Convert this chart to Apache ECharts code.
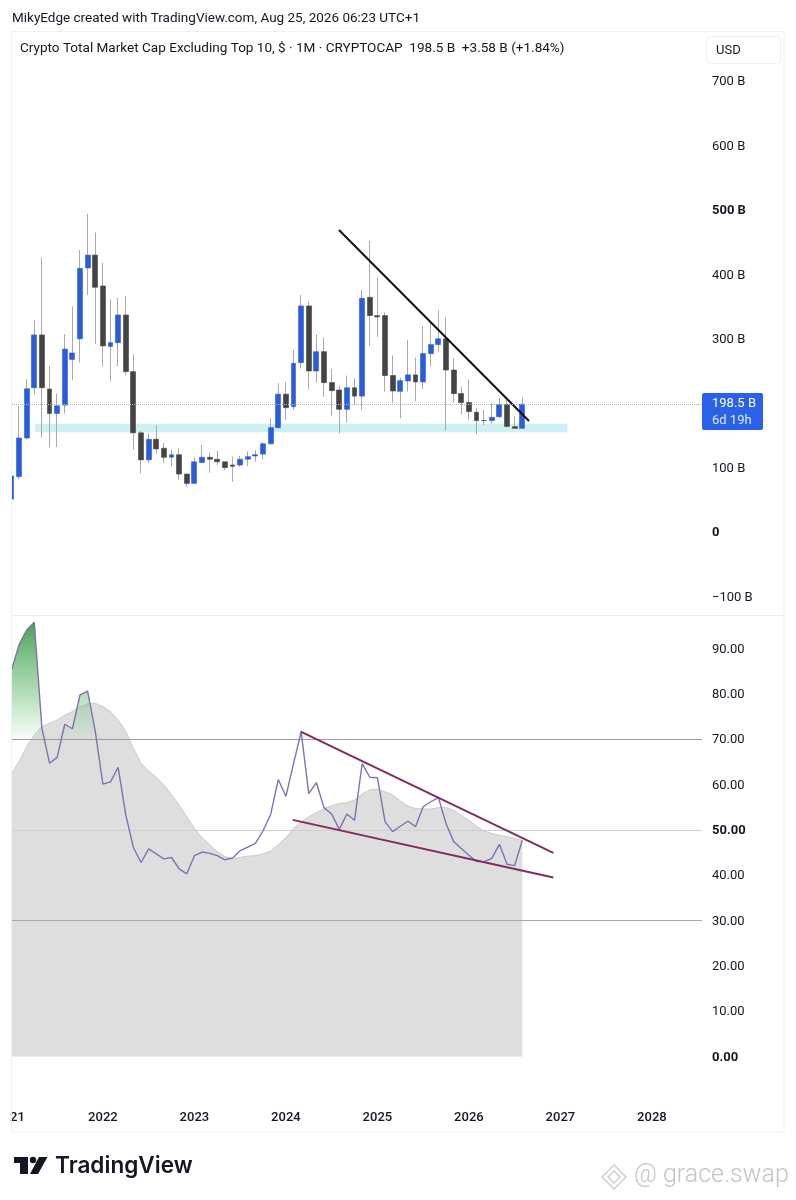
<!DOCTYPE html>
<html><head><meta charset="utf-8">
<style>html,body{margin:0;padding:0;background:#fff}#c{width:796px;height:1200px}</style>
<script src="https://cdn.jsdelivr.net/npm/echarts@6/dist/echarts.min.js"></script>
</head><body><div id="c"></div>
<script>
// bar index 0 = Jan 2021, monthly
const opens  = [51,86,146,224,306,222,184,197,268,300,410,430,382,288,294,337,249,154,112,144,130,116,120,90,75.5,108,116,113,109,104,104,113,118,121,137,162,214,194.6,263,351,250,280,232,220.5,190.5,224,211,364.4,336,336,243,218.5,234.5,244,233,277,291,300,251.5,215,201,186,173,173,179,198,163.6,161];
const closes = [87,146,222.5,306,224,184,196,284,278,409.4,430,380,289,294,337,249,154,112,144,129,116,120,90,75.5,109,116,113,109,100,102,113,117,120,137,162,214,193,262,351,250,280,232,219.5,190.5,224,211,363,336,334,243,219,235,244,233,277,291,300,251.5,215,201,187,173,173,178,198,164,161,198.5];
const lows   = [48,82,144,213,147,131,132,184,236,263,368,292,257,234,257,243,128,91,107,122,107,102,81,70,75,107,92,104,96,78,101,102,109,113,135,161,174,189.5,254,221.5,232,210,181,153,170,197,189,289,303,218,200,176.5,218,203,222,257,280,157,201,183,174,152,166,168,176.5,162,161,161];
const highs  = [88,196,237,329,426,258,215,307,350,438,494,465,418,361,364,366,276,157,153,166,138,128,130,90,116,135,123,126,109,117,118,125,127,140,176.5,231,233,283,368,358,307,302,253,227,243,238.6,376,452,395,341,274,239,298,271,320,325.6,344,333,270,226,237,192,189.5,200,208.6,205,180,209];
const rsi = [85.2,90.8,94.1,95.8,72.4,64.7,66,73.3,72.3,79.8,80.6,71.7,60.1,60.6,63.8,53.3,46.1,42.8,45.8,44.7,43.6,43.9,41.4,40.3,44.3,45.1,44.8,44.3,43.4,43.8,45.4,46.2,47,49.8,53.4,61.1,57.4,64.6,71.6,58,60.4,54.9,53.5,50.1,53.5,52.1,64.6,61.6,61.5,51.8,49.6,50.8,51.9,50.7,55.1,56.2,57.1,51.4,47.4,45.9,44.4,43,43,43.7,46.8,42.4,42.1,47.7];
const rsiMa = [62.3,65,68.4,70.9,72.8,73.5,74.2,75.3,76.1,77.2,77.8,77.9,77.2,76.1,74.2,71.7,68,64.7,63,61.6,59.9,57.7,55.5,52.9,50.3,48.3,46.7,45.2,44.1,43.7,43.9,44.2,44.3,44.7,45.3,46.7,48.3,50.3,51.8,52.9,53.8,54.7,55.3,55.8,56,56.6,57.9,58.8,59,58.4,57.7,56.4,55.2,54.7,54.6,54.6,54.9,54.9,54.3,53.2,52.1,50.8,49.7,49.2,48.8,48.5,48.1,47.7];
const priceTicks = [-100,0,100,300,400,500,600,700];
const priceLabels = {'-100':'\u2212100 B','0':'{b|0}','100':'100 B','300':'300 B','400':'400 B','500':'{b|500 B}','600':'600 B','700':'700 B'};
const rsiTicks = [0,10,20,30,40,50,60,70,80,90];
const rsiLabels = {'0':'{b|0.00}','10':'10.00','20':'20.00','30':'30.00','40':'40.00','50':'{b|50.00}','60':'60.00','70':'70.00','80':'80.00','90':'90.00'};
const xTickValues = [0.8,12,24,36,48,60,72,84];
const xTickLabels = ['21','2022','2023','2024','2025','2026','2027','2028'];
const lastPrice = 198.5;
const supportZone = [[3.1,168],[72.93,154.8]];
const priceTrend = [[42.96,469],[67.88,172.4]];
const rsiUpper = [[37.94,71.65],[71.07,44.9]];
const rsiLower = [[36.89,52.2],[71.07,39.5]];
const rsiLevels = [[70,'#9c9ca0'],[50,'#cfcfcf'],[30,'#a8a8ac']];

const FONT = 'Roboto, "Liberation Sans", sans-serif';
const BLUE = '#2b5cd9', DARK = '#444444', WICK = '#a9a9a9';
const xMin = (12-11.4)/7.625, xMax = (702-11.4)/7.625;
const idx = opens.map((_,i)=>i);
const wicks = idx.map(i=>[i,opens[i],closes[i],lows[i],highs[i]]);
const bodies = idx.map(i=>[i,opens[i],closes[i],Math.min(opens[i],closes[i]),Math.max(opens[i],closes[i])]);
const pairs = a => a.map((v,i)=>[i,v]);

const xAxisBase = {type:'value',min:xMin,max:xMax,axisLine:{show:false},axisTick:{show:false},splitLine:{show:false}};
const chart = echarts.init(document.getElementById('c'),null,{renderer:'canvas'});
chart.setOption({
  animation:false,
  backgroundColor:'#fff',
  textStyle:{fontFamily:FONT},
  grid:[
    {left:12,width:690,top:32,height:583},
    {left:12,width:690,top:616,height:484}
  ],
  xAxis:[
    Object.assign({gridIndex:0,axisLabel:{show:false}},xAxisBase),
    Object.assign({gridIndex:1,axisLabel:{show:true,customValues:xTickValues,margin:11,color:'#131722',fontSize:13,fontWeight:500,fontFamily:FONT,
      hideOverlap:false,formatter:v=>xTickLabels[xTickValues.indexOf(v)]}},xAxisBase)
  ],
  yAxis:[
    {gridIndex:0,type:'value',position:'right',min:(532-615)/0.644,max:(532-32)/0.644,axisLine:{show:false},axisTick:{show:false},splitLine:{show:false},
     axisLabel:{customValues:priceTicks,margin:10,padding:[2,0,0,0],color:'#131722',fontSize:13,fontFamily:FONT,formatter:v=>priceLabels[v],
       rich:{b:{fontWeight:'bold',fontSize:13,color:'#131722',fontFamily:FONT}}}},
    {gridIndex:1,type:'value',position:'right',min:(1056.5-1100)/4.533,max:(1056.5-616)/4.533,axisLine:{show:false},axisTick:{show:false},splitLine:{show:false},
     axisLabel:{customValues:rsiTicks,margin:10,padding:[2,0,0,0],color:'#131722',fontSize:13,fontFamily:FONT,formatter:v=>rsiLabels[v],
       rich:{b:{fontWeight:'bold',fontSize:13,color:'#131722',fontFamily:FONT}}}}
  ],
  series:[
    {type:'line',name:'zone',xAxisIndex:0,yAxisIndex:0,data:[],silent:true,z:1,
     markArea:{silent:true,itemStyle:{color:'#cdf0f2'},data:[[{xAxis:supportZone[0][0],yAxis:supportZone[0][1]},{xAxis:supportZone[1][0],yAxis:supportZone[1][1]}]]},
     markLine:{silent:true,symbol:'none',label:{show:false},lineStyle:{color:'#b4b4b4',type:'dotted',width:1},data:[{yAxis:lastPrice}]}},
    {type:'candlestick',name:'wicks',xAxisIndex:0,yAxisIndex:0,data:wicks,barWidth:1,z:2,silent:true,
     itemStyle:{color:WICK,color0:WICK,borderColor:WICK,borderColor0:WICK,borderColorDoji:WICK,borderWidth:1}},
    {type:'candlestick',name:'bodies',xAxisIndex:0,yAxisIndex:0,data:bodies,barWidth:5.4,z:3,silent:true,
     itemStyle:{color:BLUE,color0:DARK,borderColor:BLUE,borderColor0:DARK,borderColorDoji:DARK,borderWidth:0.6}},
    {type:'line',name:'trend',xAxisIndex:0,yAxisIndex:0,data:priceTrend,symbol:'none',z:4,silent:true,lineStyle:{color:'#111',width:2}},

    {type:'line',name:'RSI MA',xAxisIndex:1,yAxisIndex:1,data:pairs(rsiMa),symbol:'none',z:2,silent:true,
     lineStyle:{color:'#c9c9c9',width:1},areaStyle:{color:'#dedede',opacity:1,origin:0}},
    {type:'line',name:'OB',xAxisIndex:1,yAxisIndex:1,data:pairs(rsi.map(v=>Math.max(v,70))),symbol:'none',z:3,silent:true,
     lineStyle:{width:0},
     areaStyle:{opacity:1,origin:70,color:new echarts.graphic.LinearGradient(0,622,0,745,[
       {offset:0,color:'rgba(72,160,85,1)'},{offset:0.6,color:'rgba(110,190,120,0.5)'},{offset:1,color:'rgba(130,205,140,0)'}],true)}},
    {type:'line',name:'levels',xAxisIndex:1,yAxisIndex:1,data:[],z:4,silent:true,
     markLine:{silent:true,symbol:'none',label:{show:false},data:rsiLevels.map(l=>({yAxis:l[0],lineStyle:{color:l[1],type:'solid',width:1}}))}},
    {type:'line',name:'RSI',xAxisIndex:1,yAxisIndex:1,data:pairs(rsi),symbol:'none',z:5,silent:true,lineStyle:{color:'#7d74ae',width:1.4}},
    {type:'line',name:'upper',xAxisIndex:1,yAxisIndex:1,data:rsiUpper,symbol:'none',z:6,silent:true,lineStyle:{color:'#7c2e5e',width:2}},
    {type:'line',name:'lower',xAxisIndex:1,yAxisIndex:1,data:rsiLower,symbol:'none',z:6,silent:true,lineStyle:{color:'#7c2e5e',width:2}}
  ],
  graphic:{elements:[
    {type:'rect',silent:true,z:30,shape:{x:0,y:380,width:11.5,height:140},style:{fill:'#ffffff'}},
    {type:'rect',silent:true,z:31,shape:{x:11.5,y:31.5,width:772.5,height:1100.5},style:{fill:'none',stroke:'#f1f1f3',lineWidth:1}},
    {type:'line',silent:true,z:0,shape:{x1:12,y1:615.5,x2:784,y2:615.5},style:{stroke:'#eeeeee',lineWidth:1}},
    {type:'text',silent:true,x:12,y:19,style:{text:'MikyEdge created with TradingView.com, Aug 25, 2026 06:23 UTC+1',fontFamily:FONT,fontSize:13.5,fill:'#131722',verticalAlign:'middle'}},
    {type:'text',silent:true,x:20,y:49,style:{text:'Crypto Total Market Cap Excluding Top 10, $ \u00b7 1M \u00b7 CRYPTOCAP  198.5 B  +3.58 B (+1.84%)',fontFamily:FONT,fontSize:13.55,fill:'#131722',verticalAlign:'middle'}},
    {type:'rect',silent:true,shape:{x:706.5,y:36.5,width:74,height:27,r:4},style:{fill:'#fff',stroke:'#f0f0f2',lineWidth:1}},
    {type:'text',silent:true,x:716,y:51,style:{text:'USD',fontFamily:FONT,fontSize:13,fill:'#131722',verticalAlign:'middle'}},
    {type:'rect',silent:true,z:20,shape:{x:702,y:393,width:61,height:37,r:2},style:{fill:'#2962e8'}},
    {type:'text',silent:true,z:21,x:712,y:404,style:{text:'198.5 B',fontFamily:FONT,fontSize:13,fill:'#fff',verticalAlign:'middle'}},
    {type:'text',silent:true,z:21,x:712,y:421,style:{text:'6d 19h',fontFamily:FONT,fontSize:13,fill:'#dfe8ff',verticalAlign:'middle'}},
    {type:'rect',silent:true,shape:{x:14,y:1157,width:14,height:6},style:{fill:'#131722'}},
    {type:'rect',silent:true,shape:{x:20,y:1157,width:8,height:17},style:{fill:'#131722'}},
    {type:'circle',silent:true,shape:{cx:33,cy:1160,r:3.2},style:{fill:'#131722'}},
    {type:'polygon',silent:true,shape:{points:[[39,1157],[47.5,1157],[38,1174],[30,1174]]},style:{fill:'#131722'}},
    {type:'text',silent:true,x:55,y:1166,style:{text:'TradingView',fontFamily:'Inter, Roboto, sans-serif',fontWeight:600,fontSize:22.6,fill:'#131722',verticalAlign:'middle'}},
    {type:'polygon',silent:true,shape:{points:[[614,1165],[626,1177],[614,1189],[602,1177]]},style:{fill:'none',stroke:'#cfcfcf',lineWidth:1.5}},
    {type:'polygon',silent:true,shape:{points:[[614,1171],[620,1177],[614,1183],[608,1177]]},style:{fill:'none',stroke:'#cfcfcf',lineWidth:1.5}},
    {type:'text',silent:true,x:634,y:1176,style:{text:'@ grace.swap',fontFamily:'Roboto, sans-serif',fontWeight:300,fontSize:25,fill:'#c4c4c4',verticalAlign:'middle'}}
  ]}
});
</script></body></html>
